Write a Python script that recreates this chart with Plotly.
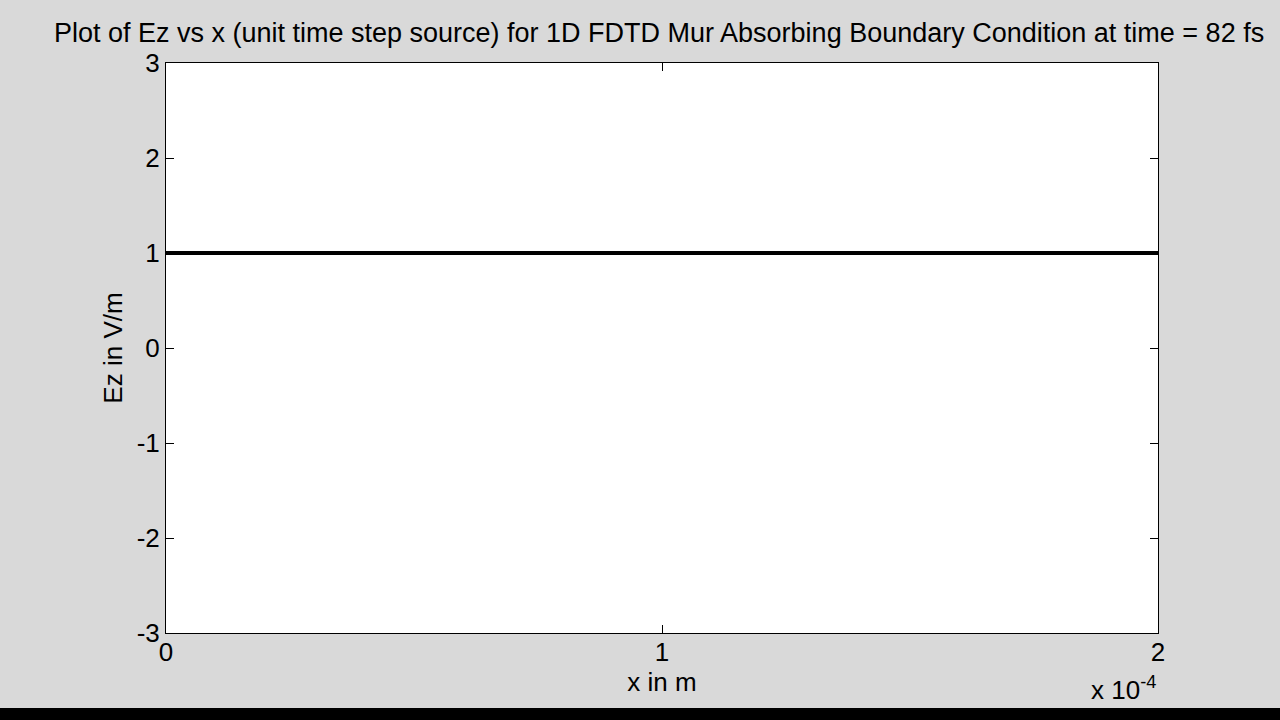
import plotly.graph_objects as go

# field snapshot Ez(x) at t = 82 fs
x_m = [0.0, 0.25e-4, 0.5e-4, 0.75e-4, 1.0e-4, 1.25e-4, 1.5e-4, 1.75e-4, 2.0e-4]
ez = [1, 1, 1, 1, 1, 1, 1, 1, 1]

x_ticks = [0.0, 1.0e-4, 2.0e-4]
x_tick_text = ["0", "1", "2"]
y_ticks = [-3, -2, -1, 0, 1, 2, 3]
y_tick_text = ["-3", "-2", "-1", "0", "1", "2", "3"]

font = dict(family="Liberation Sans, Arial, sans-serif", size=26, color="black")
title_font = dict(family="Liberation Sans, Arial, sans-serif", size=27, color="black")

fig = go.Figure()
fig.add_trace(go.Scatter(x=x_m, y=ez, mode="lines",
                         line=dict(color="black", width=4), showlegend=False))

axis_common = dict(showline=True, linecolor="black", linewidth=1, mirror="ticks",
                   ticks="inside", ticklen=8, tickcolor="black", tickwidth=1,
                   showgrid=False, zeroline=False, tickfont=font)

fig.update_xaxes(range=[0, 2.0e-4], tickvals=x_ticks, ticktext=x_tick_text,
                 ticklabelstandoff=-4,
                 title=dict(text="x in m", font=font, standoff=2), **axis_common)
fig.update_yaxes(range=[-3, 3], tickvals=y_ticks, ticktext=y_tick_text,
                 title=dict(text="Ez in V/m", font=font, standoff=6), **axis_common)

fig.add_annotation(text="x 10<sup>-4</sup>", xref="paper", yref="paper",
                   x=1.0, y=-0.129, xanchor="right", yanchor="bottom",
                   showarrow=False, font=font)

# black strip along the bottom of the window
fig.add_shape(type="rect", xref="paper", yref="paper", x0=-0.3, x1=1.3,
              y0=-0.2, y1=-0.1316, fillcolor="black", line=dict(width=0),
              layer="below")

fig.update_layout(
    width=1280, height=720,
    paper_bgcolor="#d9d9d9", plot_bgcolor="white",
    margin=dict(l=166, r=122, t=63, b=87),
    title=dict(text="Plot of Ez vs x (unit time step source) for 1D FDTD Mur Absorbing Boundary Condition at time = 82 fs",
               font=title_font, x=0.497, xref="paper", xanchor="center",
               y=1 - 33 / 720, yanchor="middle"),
    font=font,
)

fig.write_html("out.html", config={"displayModeBar": False},
               post_script="document.body.style.margin='0';")
